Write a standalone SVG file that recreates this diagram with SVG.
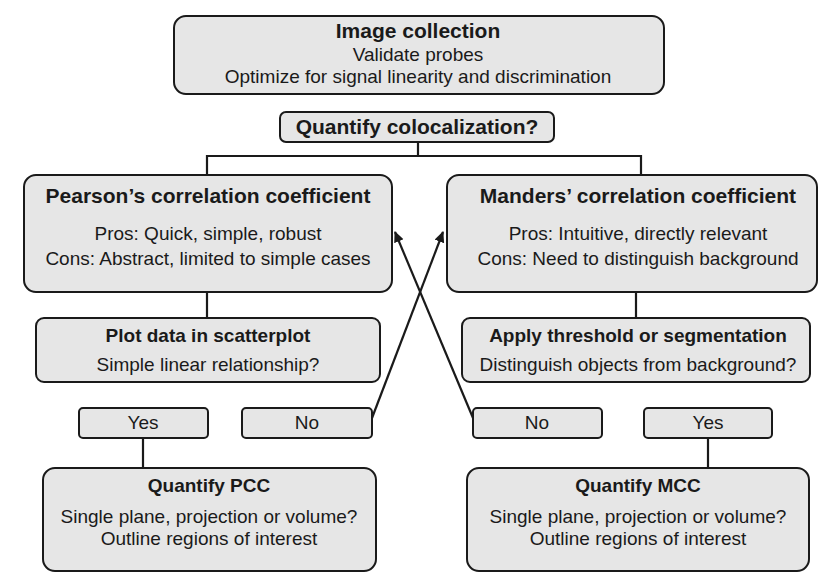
<svg xmlns="http://www.w3.org/2000/svg" width="840" height="583" viewBox="0 0 840 583">
<style>
.b{fill:#e6e6e6;stroke:#1a1a1a;stroke-width:2}
text{font-family:"Liberation Sans",Arial,sans-serif;font-size:19px;fill:#1a1a1a;text-anchor:middle}
.t{font-weight:bold;font-size:19px}
.T{font-weight:bold;font-size:21px}
.c{fill:none;stroke:#1a1a1a;stroke-width:2.2}
</style>
<defs><marker id="a" markerWidth="12" markerHeight="12" refX="10" refY="5" orient="auto" markerUnits="userSpaceOnUse"><path d="M0,0 L11,5 L0,10 z" fill="#1a1a1a"/></marker></defs>
<rect width="840" height="583" fill="#fff"/>
<g id="connectors">
<path class="c" d="M418,142V156M207,175V156H641V175M207,292V318M636,292V318M143,438V468M708,438V468"/>
<path class="c" d="M372,418L443,232" marker-end="url(#a)"/>
<path class="c" d="M473,418L395,232" marker-end="url(#a)"/>
</g>
<g id="image"><rect class="b" x="174" y="16" width="490" height="78" rx="12"/>
<text class="T" x="418" y="38">Image collection</text><text x="418" y="61">Validate probes</text><text x="418" y="83">Optimize for signal linearity and discrimination</text></g>
<g id="quantify"><rect class="b" x="280" y="112" width="274" height="30" rx="6"/><text class="T" x="417" y="134">Quantify colocalization?</text></g>
<g id="pearson"><rect class="b" x="24" y="175" width="368" height="117" rx="12"/>
<text class="T" x="208" y="203">Pearson’s correlation coefficient</text><text x="208" y="240">Pros:  Quick, simple, robust</text><text x="208" y="265">Cons: Abstract, limited to simple cases</text></g>
<g id="manders"><rect class="b" x="447" y="175" width="370" height="117" rx="12"/>
<text class="T" x="638" y="203">Manders’ correlation coefficient</text><text x="638" y="240">Pros:  Intuitive, directly relevant</text><text x="638" y="265">Cons:  Need to distinguish background</text></g>
<g id="scatter"><rect class="b" x="36" y="318" width="344" height="64" rx="8"/>
<text class="t" x="208" y="342">Plot data in scatterplot</text><text x="208" y="371">Simple linear relationship?</text></g>
<g id="threshold"><rect class="b" x="462" y="318" width="348" height="64" rx="8"/>
<text class="t" x="638" y="342">Apply threshold or segmentation</text><text x="638" y="371">Distinguish objects from background?</text></g>
<g id="yesL"><rect class="b" x="79" y="408" width="129" height="30" rx="4"/><text x="143" y="429">Yes</text></g>
<g id="noL"><rect class="b" x="242" y="408" width="130" height="30" rx="4"/><text x="307" y="429">No</text></g>
<g id="noR"><rect class="b" x="473" y="408" width="129" height="30" rx="4"/><text x="537" y="429">No</text></g>
<g id="yesR"><rect class="b" x="644" y="408" width="128" height="30" rx="4"/><text x="708" y="429">Yes</text></g>
<g id="pcc"><rect class="b" x="43" y="468" width="333" height="103" rx="12"/>
<text class="t" x="209" y="492">Quantify PCC</text><text x="209" y="523">Single plane, projection or volume?</text><text x="209" y="545">Outline regions of interest</text></g>
<g id="mcc"><rect class="b" x="467" y="468" width="342" height="103" rx="12"/>
<text class="t" x="638" y="492">Quantify MCC</text><text x="638" y="523">Single plane, projection or volume?</text><text x="638" y="545">Outline regions of interest</text></g>
</svg>
